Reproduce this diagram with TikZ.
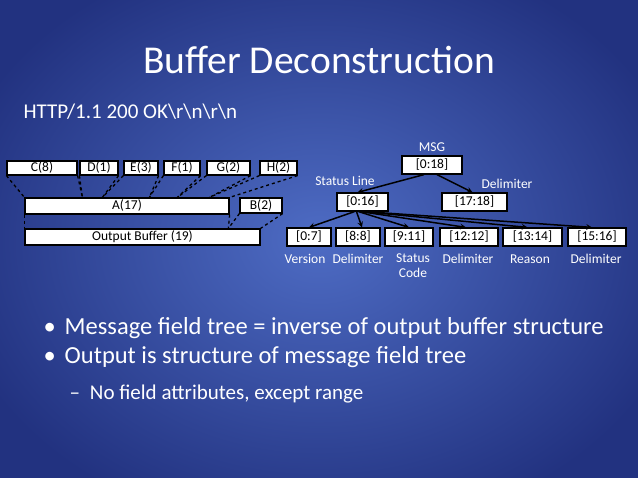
\documentclass[tikz,border=0pt]{standalone}
\usepackage{fontspec}
\setmainfont{Carlito}
\begin{document}
\begin{tikzpicture}[x=1pt,y=-1pt,
 bx/.style={draw=black,fill=white,line width=1.2pt,inner sep=0pt,font=\fontsize{13.5}{13.5}\selectfont},
 lbl/.style={text=white,font=\fontsize{13.5}{15}\selectfont,align=center},
 dl/.style={draw=black,dashed,line width=1.3pt},
 ar/.style={draw=black,line width=1.5pt,-stealth}]
\useasboundingbox (0,0) rectangle (638,478);
\begin{scope}
\clip (0,0) rectangle (638,478);
\shade[inner color={rgb,255:red,78;green,108;blue,196},outer color={rgb,255:red,34;green,50;blue,128}] (-60,-60) rectangle (698,538);
\end{scope}
\node[text=white,font=\fontsize{39.5}{42}\selectfont] (title) at (319,60) {Buffer Deconstruction};
\node[text=white,anchor=west,font=\fontsize{21}{22}\selectfont] (http) at (20,112) {HTTP/1.1 200 OK\textbackslash r\textbackslash n\textbackslash r\textbackslash n};
\newcommand\bxat[6]{\node[bx,minimum width=#4-#3,minimum height=#6-#5] (#1) at ({(#3+#4)/2},{(#5+#6)/2}) {#2};}
\bxat{c}{C(8)}{7}{77}{161}{175}
\bxat{d}{D(1)}{80}{118}{161}{175}
\bxat{e}{E(3)}{124}{158}{161}{175}
\bxat{f}{F(1)}{164}{200}{161}{175}
\bxat{g}{G(2)}{207}{250}{161}{175}
\bxat{h}{H(2)}{260}{297}{161}{175}
\bxat{a}{A(17)}{25}{229}{198}{214}
\bxat{b}{B(2)}{240}{282}{198}{213}
\bxat{o}{Output Buffer (19)}{25}{260}{229}{245}
\draw[dl] (c.south west) -- ([xshift=0pt]a.north west);
\draw[dl] (c.south east) -- ([xshift=58pt]a.north west);
\draw[dl] (d.south west) -- ([xshift=58pt]a.north west);
\draw[dl] (d.south east) -- ([xshift=78pt]a.north west);
\draw[dl] (e.south west) -- ([xshift=78pt]a.north west);
\draw[dl] (e.south east) -- ([xshift=125pt]a.north west);
\draw[dl] (f.south west) -- ([xshift=125pt]a.north west);
\draw[dl] (f.south east) -- ([xshift=153pt]a.north west);
\draw[dl] (g.south west) -- ([xshift=153pt]a.north west);
\draw[dl] (g.south east) -- ([xshift=185pt]a.north west);
\draw[dl] (h.south west) -- ([xshift=185pt]a.north west);
\draw[dl] (h.south east) -- (a.north east);
\draw[dl] (a.south west) -- (o.north west);
\draw[dl] (a.south east) -- ([xshift=204pt]o.north west);
\draw[dl] (b.south west) -- ([xshift=204pt]o.north west);
\draw[dl] (b.south east) -- (o.north east);
\bxat{m}{[0:18]}{402}{462}{156}{174}
\bxat{s}{[0:16]}{337}{388}{193}{211}
\bxat{dd}{[17:18]}{442}{507}{193}{211}
\bxat{t1}{[0:7]}{287}{331}{228}{246}
\bxat{t2}{[8:8]}{336}{380}{228}{246}
\bxat{t3}{[9:11]}{385}{433}{228}{246}
\bxat{t4}{[12:12]}{440}{498}{228}{246}
\bxat{t5}{[13:14]}{503}{562}{228}{246}
\bxat{t6}{[15:16]}{568}{626}{228}{246}
\node[lbl] (lm) at (432,147) {MSG};
\node[lbl] (ls) at (345,181) {Status Line};
\node[lbl] (ld) at (507,184) {Delimiter};
\node[lbl] (l1) at (305,259) {Version};
\node[lbl] (l2) at (358,259) {Delimiter};
\node[lbl,anchor=north] (l3) at (413,250) {Status\\Code};
\node[lbl] (l4) at (468,259) {Delimiter};
\node[lbl] (l5) at (530,259) {Reason};
\node[lbl] (l6) at (596,259) {Delimiter};
\draw[ar] ([xshift=-8pt]m.south) -- ([xshift=-5pt]s.north);
\draw[ar] ([xshift=5pt]m.south) -- ([xshift=-2pt]dd.north);
\draw[ar] ([xshift=-8pt]s.south) -- (t1.north);
\draw[ar] ([xshift=-6pt]s.south) -- ([xshift=4pt]t2.north);
\draw[ar] ([xshift=-4pt]s.south) -- (t3.north);
\draw[ar] ([xshift=-2pt]s.south) -- ([xshift=-3pt]t4.north);
\draw[ar] ([xshift=0pt]s.south) -- ([xshift=-5pt]t5.north);
\draw[ar] ([xshift=2pt]s.south) -- ([xshift=-5pt]t6.north);
\begin{scope}[every node/.style={text=white,anchor=west}]
\node[font=\fontsize{24.5}{26}\selectfont] (b1) at (40,328) {\textbullet\hspace{9pt}Message field tree = inverse of output buffer structure};
\node[font=\fontsize{24.5}{26}\selectfont] (b2) at (40,357) {\textbullet\hspace{9pt}Output is structure of message field tree};
\node[font=\fontsize{21}{22}\selectfont] (b3) at (66,394) {–\hspace{10pt}No field attributes, except range};
\end{scope}
\end{tikzpicture}
\end{document}
